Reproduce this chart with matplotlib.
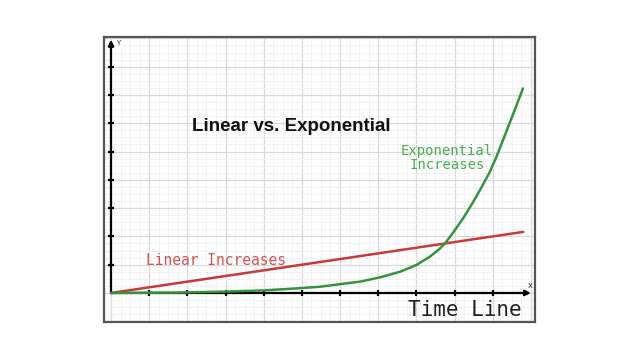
import matplotlib
matplotlib.use('Agg')
import matplotlib.pyplot as plt
import numpy as np

# values (x in time units, y in value units)
lin_x = [0, 10.8]
lin_y = [0, 2.16]
exp_x = [0, 1, 2, 3, 4, 4.95, 5.47, 5.99, 6.52, 7.04, 7.57, 8.0, 8.35, 8.61, 8.76,
         8.96, 9.22, 9.48, 9.70, 9.92, 10.10, 10.40, 10.60, 10.79]
exp_y = [0, 0.01, 0.02, 0.05, 0.09, 0.17, 0.22, 0.31, 0.40, 0.55, 0.75, 0.99, 1.28, 1.56, 1.77,
         2.13, 2.63, 3.20, 3.72, 4.27, 4.82, 5.86, 6.55, 7.23]
x_ticks = list(range(1, 11))
y_ticks = list(range(1, 9))

fig = plt.figure(figsize=(6.4, 3.6), dpi=100)
ax = fig.add_axes([0.1625, 0.1056, 0.673, 0.7917])
ax.set_xlim(-0.183, 11.1)
ax.set_ylim(-1.025, 9.05)

# graph paper grid
ax.set_xticks(np.arange(0, 12, 1))
ax.set_yticks(np.arange(-1, 10, 1))
ax.set_xticks(np.arange(-0.0, 11.1, 0.25), minor=True)
ax.set_yticks(np.arange(-1, 9.05, 0.25), minor=True)
ax.grid(which='major', color='#dadada', lw=0.9)
ax.grid(which='minor', color='#f0f0f0', lw=0.6)
ax.tick_params(which='both', length=0, labelbottom=False, labelleft=False)
ax.set_axisbelow(True)
for s in ax.spines.values():
    s.set_color('#555555')
    s.set_linewidth(1.6)

# axes with arrows
arr = dict(arrowstyle='-|>', color='black', lw=1.6, mutation_scale=8, shrinkA=0, shrinkB=0)
ax.annotate('', xy=(11.0, 0), xytext=(0, 0), arrowprops=arr)
ax.annotate('', xy=(0, 8.95), xytext=(0, 0), arrowprops=arr)
ax.plot(x_ticks, [0] * len(x_ticks), ls='none', marker='|', ms=5, mew=1.6, color='black')
ax.plot([0] * len(y_ticks), y_ticks, ls='none', marker='_', ms=5, mew=1.6, color='black')
ax.text(0.18, 8.85, 'Y', fontsize=5, color='#333333', ha='center', va='center')
ax.text(10.98, 0.25, 'x', fontsize=6, color='#333333', ha='center', va='center')

# curves
ax.plot(lin_x, lin_y, color='#c83a3a', lw=1.8, solid_capstyle='round', zorder=3)
ax.plot(exp_x, exp_y, color='#35933f', lw=1.8, solid_capstyle='round',
        solid_joinstyle='round', zorder=4)

ax.text(4.72, 5.87, 'Linear vs. Exponential', fontsize=13.5, fontweight='bold',
        family='Liberation Sans', ha='center', va='center', color='#111111')
ax.text(2.76, 1.15, 'Linear Increases', fontsize=10.5, family='DejaVu Sans Mono',
        color='#d05555', ha='center', va='center')
ax.text(8.80, 4.77, 'Exponential\nIncreases', fontsize=10, family='DejaVu Sans Mono',
        color='#4caf55', ha='center', va='center', linespacing=1.0)
ax.text(9.27, -0.6, 'Time Line', fontsize=15, family='DejaVu Sans Mono',
        color='#222222', ha='center', va='center')

fig.savefig('out.png', dpi=100, facecolor='white')
